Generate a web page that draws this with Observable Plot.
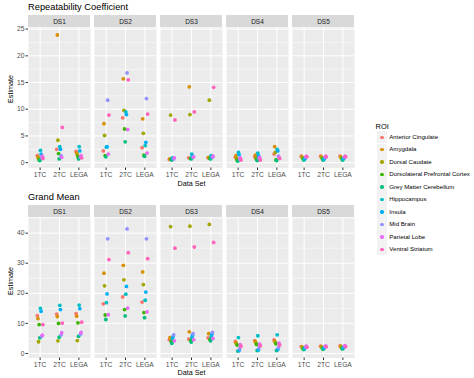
<!DOCTYPE html>
<html>
<head>
<meta charset="utf-8">
<script src="https://cdn.jsdelivr.net/npm/d3@7"></script>
<script src="https://cdn.jsdelivr.net/npm/@observablehq/plot@0.6"></script>
<style>
  html, body { margin: 0; padding: 0; background: #ffffff; }
  #root { position: relative; width: 474px; height: 378px; overflow: hidden; font-family: "Liberation Sans", Arial, sans-serif; background: #fff; }
  .abs { position: absolute; white-space: nowrap; line-height: 1; }
  .title { font-size: 9.3px; color: #000; }
  .axtitle { font-size: 7.2px; color: #000; }
  .legtitle { font-size: 7.5px; color: #000; }
  .legtext { font-size: 6.1px; color: #000; }
  .key { position: absolute; width: 10px; height: 12.4px; background: #F2F2F2; }
  .keydot { position: absolute; left: 3.3px; top: 4.5px; width: 3.4px; height: 3.4px; border-radius: 50%; }
</style>
</head>
<body>
<div id="root"></div>
<script>
// ---- categories ----
const rois = ["Anterior Cingulate", "Amygdala", "Dorsal Caudate", "Dorsolateral Prefrontal Cortex",
  "Grey Matter Cerebellum", "Hippocampus", "Insula", "Mid Brain", "Parietal Lobe", "Ventral Striatum"];
const roiColors = ["#F8766D", "#D89000", "#A3A500", "#39B600", "#00BF7D", "#00BFC4", "#00B0F6", "#9590FF", "#E76BF3", "#FF62BC"];
const methods = ["1TC", "2TC", "LEGA"];
const datasets = ["DS1", "DS2", "DS3", "DS4", "DS5"];

// ---- Repeatability Coefficient: [1TC, 2TC, LEGA], each in ROI order ----
const rcDS1 = [
  [1.3, 1.1, 0.8, 0.5, 0.4, 2.3, 1.6, 0.9, 1.2, 0.8],
  [2.5, 23.9, 4.2, 1.7, 0.7, 3.0, 2.5, 1.3, 1.0, 6.6],
  [2.1, 1.8, 1.5, 1.1, 0.7, 3.0, 2.2, 1.0, 1.3, 0.9]];
const rcDS2 = [
  [2.2, 7.3, 5.1, 1.3, 1.1, 2.9, 3.0, 11.7, 1.6, 8.9],
  [8.4, 15.7, 9.8, 6.3, 3.9, 9.5, 9.0, 16.8, 6.2, 15.5],
  [2.8, 8.2, 5.5, 1.4, 1.2, 3.2, 3.8, 12.0, 1.8, 9.1]];
const rcDS3 = [
  [0.6, 0.7, 8.9, 0.6, 0.5, 0.9, 0.8, 0.7, 0.9, 8.0],
  [0.9, 14.2, 9.0, 0.8, 0.7, 1.6, 1.2, 1.0, 1.1, 9.5],
  [0.9, 1.0, 11.7, 0.8, 0.7, 1.3, 1.1, 1.0, 1.2, 14.1]];
const rcDS4 = [
  [1.0, 1.3, 0.8, 0.4, 0.3, 1.9, 1.5, 0.7, 0.9, 0.5],
  [1.1, 1.4, 0.9, 0.6, 0.4, 1.8, 1.3, 0.8, 1.0, 0.5],
  [1.6, 3.0, 1.9, 0.5, 0.4, 2.5, 2.2, 1.2, 1.0, 0.8]];
const rcDS5 = [
  [1.2, 1.1, 0.9, 0.7, 0.5, 0.6, 0.8, 1.0, 1.2, 1.1],
  [1.2, 1.1, 0.9, 0.7, 0.5, 0.6, 0.8, 1.0, 1.2, 1.1],
  [1.2, 1.1, 0.9, 0.7, 0.5, 0.7, 0.8, 1.0, 1.2, 1.1]];

// ---- Grand Mean ----
const gmDS1 = [
  [12.6, 11.6, 3.9, 9.6, 5.2, 15.0, 14.0, 5.7, 6.1, 9.6],
  [13.1, 12.3, 4.2, 10.0, 5.4, 16.0, 14.6, 6.2, 6.9, 10.1],
  [13.2, 12.4, 4.3, 10.2, 5.7, 16.1, 14.9, 6.4, 7.0, 10.4]];
const gmDS2 = [
  [16.5, 26.7, 22.5, 12.8, 11.3, 16.9, 19.8, 38.1, 12.9, 31.2],
  [18.8, 29.3, 24.5, 14.6, 12.5, 19.7, 22.3, 41.4, 15.1, 33.5],
  [17.1, 27.1, 22.9, 13.6, 11.9, 17.7, 20.4, 38.1, 13.8, 31.5]];
const gmDS3 = [
  [4.6, 5.3, 42.2, 4.0, 3.4, 4.9, 5.6, 6.2, 4.2, 35.0],
  [4.8, 7.2, 42.3, 4.3, 3.8, 5.2, 6.0, 6.6, 4.6, 35.4],
  [5.2, 6.6, 42.9, 4.6, 4.2, 5.6, 6.4, 7.0, 5.0, 36.9]];
const gmDS4 = [
  [4.0, 3.6, 3.2, 2.8, 0.8, 5.3, 1.0, 1.6, 2.9, 2.4],
  [4.3, 3.9, 3.5, 3.0, 1.0, 5.9, 1.2, 1.9, 3.1, 2.6],
  [4.5, 4.1, 3.7, 3.2, 1.0, 6.2, 1.3, 2.0, 3.4, 2.8]];
const gmDS5 = [
  [2.3, 2.2, 1.9, 1.5, 1.3, 1.6, 1.9, 2.2, 2.4, 2.1],
  [2.4, 2.3, 2.0, 1.6, 1.4, 1.7, 2.0, 2.3, 2.5, 2.2],
  [2.5, 2.4, 2.1, 1.7, 1.5, 1.8, 2.1, 2.4, 2.6, 2.3]];

// ---- axis ticks ----
const rcTicks = [0, 5, 10, 15, 20, 25];
const rcMinor = [2.5, 7.5, 12.5, 17.5, 22.5];
const gmTicks = [0, 10, 20, 30, 40];
const gmMinor = [5, 15, 25, 35, 45];

function toRows(perDs) {
  const rows = [];
  datasets.forEach((ds, di) => {
    methods.forEach((m, mi) => {
      rois.forEach((roi, ri) => rows.push({ds, method: m, roi, value: perDs[di][mi][ri]}));
    });
  });
  return rows;
}
const rcRows = toRows([rcDS1, rcDS2, rcDS3, rcDS4, rcDS5]);
const gmRows = toRows([gmDS1, gmDS2, gmDS3, gmDS4, gmDS5]);

const dodge = 0.032; // position_dodge spacing per ROI (category units)
const xPos = d => methods.indexOf(d.method) + 1 + (rois.indexOf(d.roi) - 4.5) * dodge;

function facetChart(rows, yDomain, ticks, minor, height) {
  return Plot.plot({
    width: 360, height,
    marginTop: 27, marginBottom: height - 27 - 140.5, marginLeft: 28, marginRight: 5,
    style: {fontFamily: "'Liberation Sans', Arial, sans-serif", background: "transparent", overflow: "visible"},
    fx: {domain: datasets, paddingInner: 0.06, paddingOuter: 0, axis: null},
    x: {domain: [0.4, 3.6]},
    y: {domain: yDomain},
    color: {domain: rois, range: roiColors},
    marks: [
      Plot.frame({fill: "#EBEBEB", stroke: "none"}),
      Plot.gridY(minor, {stroke: "#ffffff", strokeOpacity: 1, strokeWidth: 0.5}),
      Plot.gridY(ticks, {stroke: "#ffffff", strokeOpacity: 1, strokeWidth: 1}),
      Plot.gridX([1, 2, 3], {stroke: "#ffffff", strokeOpacity: 1, strokeWidth: 1}),
      Plot.rect([0], {x1: () => 0.4, x2: () => 3.6, y1: () => yDomain[1], y2: () => yDomain[1], insetTop: -12, fill: "#D9D9D9"}),
      Plot.text(datasets, {fx: d => d, text: d => d, frameAnchor: "top", lineAnchor: "middle", dy: -6, fontSize: 6.5, fill: "#1A1A1A"}),
      Plot.axisY(ticks, {tickSize: 2.5, tickPadding: 1.5, fontSize: 6.7, fill: "#4D4D4D", stroke: "#333333", label: null}),
      Plot.axisX([1, 2, 3], {tickFormat: d => methods[d - 1], tickSize: 2.5, tickPadding: 1.5, fontSize: 6.7, fill: "#4D4D4D", stroke: "#333333", label: null}),
      Plot.dot(rows, {fx: "ds", x: xPos, y: "value", fill: "roi", r: 1.9, stroke: "none"})
    ]
  });
}

const root = document.getElementById("root");
function place(el, left, topPx) {
  el.style.position = "absolute"; el.style.left = left + "px"; el.style.top = topPx + "px";
  root.appendChild(el);
}
function label(text, cls, left, topPx, extra) {
  const d = document.createElement("div");
  d.className = "abs " + cls; d.textContent = text;
  d.style.left = left + "px"; d.style.top = topPx + "px";
  if (extra) Object.assign(d.style, extra);
  root.appendChild(d);
  return d;
}

const rcChart = facetChart(rcRows, [-1.0, 25.3], rcTicks, rcMinor, 180);
place(rcChart, 0, 0);
const gmChart = facetChart(gmRows, [-1.5, 45.2], gmTicks, gmMinor, 180);
place(gmChart, 0, 190);

label("Repeatability Coefficient", "title", 28, 2.5);
label("Grand Mean", "title", 28, 192.5);
label("Data Set", "axtitle", 191.5, 179.5, {transform: "translateX(-50%)"});
label("Data Set", "axtitle", 191.5, 369, {transform: "translateX(-50%)"});
label("Estimate", "axtitle", 11, 89, {transform: "translate(-50%,-50%) rotate(-90deg)"});
label("Estimate", "axtitle", 11, 281, {transform: "translate(-50%,-50%) rotate(-90deg)"});

// legend
label("ROI", "legtitle", 375.5, 122.5);
rois.forEach((r, i) => {
  const cy = 137.3 + i * 12.44;
  const k = document.createElement("div");
  k.className = "key"; k.style.left = "377px"; k.style.top = (cy - 6.2) + "px";
  const dot = document.createElement("div");
  dot.className = "keydot"; dot.style.background = roiColors[i];
  k.appendChild(dot);
  root.appendChild(k);
  label(r, "legtext", 389.3, cy - 3.3);
});
</script>
</body>
</html>
